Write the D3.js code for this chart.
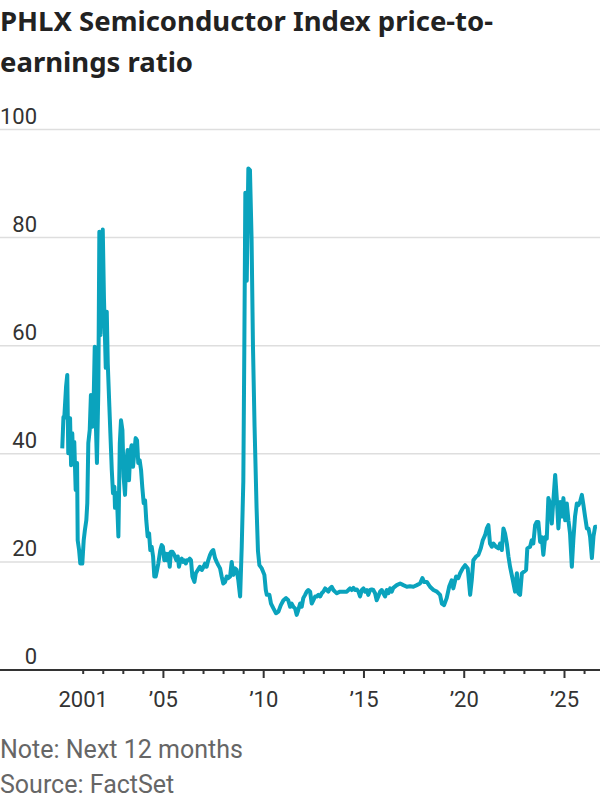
<!DOCTYPE html>
<html>
<head>
<meta charset="utf-8">
<script src="https://cdn.jsdelivr.net/npm/d3@7"></script>
<style>
  html, body { margin: 0; padding: 0; background: #fff; }
  svg { display: block; }
</style>
</head>
<body>
<svg id="chart" width="600" height="800"></svg>
<script>
// ---- Data ----
const titleLines = ["PHLX Semiconductor Index price-to-", "earnings ratio"];
const noteLines = ["Note: Next 12 months", "Source: FactSet"];

const yTicks = [0, 20, 40, 60, 80, 100];
const xTickYears = d3.range(2001, 2027);
const xLabelYears = [2001, 2005, 2010, 2015, 2020, 2025];
const xTickLabels = ["2001", "’05", "’10", "’15", "’20", "’25"];

// decimal years
const years = [
  1999.98, 2000.04, 2000.08, 2000.17, 2000.23, 2000.28, 2000.37, 2000.42, 2000.48, 2000.53,
  2000.58, 2000.65, 2000.72, 2000.75, 2000.82, 2000.88, 2000.98, 2001.05, 2001.11, 2001.18,
  2001.23, 2001.28, 2001.35, 2001.41, 2001.48, 2001.55, 2001.60, 2001.65, 2001.71, 2001.78,
  2001.83, 2001.89, 2002.00, 2002.06, 2002.15, 2002.20, 2002.25, 2002.33, 2002.38, 2002.45,
  2002.51, 2002.58, 2002.61, 2002.70, 2002.78, 2002.85, 2002.91, 2002.98, 2003.04, 2003.11,
  2003.17, 2003.24, 2003.31, 2003.37, 2003.44, 2003.51, 2003.57, 2003.64, 2003.71, 2003.77,
  2003.84, 2003.91, 2003.97, 2004.04, 2004.11, 2004.17, 2004.24, 2004.31, 2004.37, 2004.44,
  2004.51, 2004.57, 2004.64, 2004.71, 2004.77, 2004.87, 2004.94, 2005.00, 2005.07, 2005.14,
  2005.20, 2005.27, 2005.34, 2005.40, 2005.47, 2005.54, 2005.60, 2005.67, 2005.74, 2005.80,
  2005.87, 2005.94, 2006.00, 2006.07, 2006.14, 2006.20, 2006.27, 2006.34, 2006.40, 2006.47,
  2006.57, 2006.64, 2006.74, 2006.84, 2006.94, 2007.03, 2007.10, 2007.18, 2007.26, 2007.35,
  2007.43, 2007.51, 2007.60, 2007.68, 2007.76, 2007.85, 2007.93, 2008.01, 2008.10, 2008.18,
  2008.26, 2008.35, 2008.43, 2008.51, 2008.60, 2008.68, 2008.76, 2008.85, 2008.93, 2009.01,
  2009.06, 2009.11, 2009.18, 2009.26, 2009.34, 2009.42, 2009.49, 2009.57, 2009.67, 2009.74,
  2009.81, 2009.93, 2010.06, 2010.13, 2010.18, 2010.31, 2010.39, 2010.51, 2010.64, 2010.76,
  2010.88, 2011.01, 2011.14, 2011.25, 2011.34, 2011.42, 2011.50, 2011.59, 2011.67, 2011.75,
  2011.84, 2011.92, 2012.00, 2012.09, 2012.17, 2012.25, 2012.34, 2012.42, 2012.50, 2012.59,
  2012.67, 2012.75, 2012.84, 2012.92, 2013.00, 2013.09, 2013.17, 2013.25, 2013.33, 2013.42,
  2013.50, 2013.58, 2013.67, 2013.83, 2014.00, 2014.17, 2014.25, 2014.33, 2014.42, 2014.50,
  2014.58, 2014.67, 2014.75, 2014.83, 2014.92, 2015.00, 2015.08, 2015.17, 2015.24, 2015.33,
  2015.41, 2015.49, 2015.58, 2015.66, 2015.74, 2015.83, 2015.91, 2015.99, 2016.08, 2016.16,
  2016.24, 2016.33, 2016.41, 2016.49, 2016.66, 2016.83, 2016.99, 2017.16, 2017.32, 2017.49,
  2017.66, 2017.82, 2017.94, 2018.02, 2018.16, 2018.32, 2018.49, 2018.66, 2018.82, 2018.91,
  2019.02, 2019.15, 2019.28, 2019.40, 2019.48, 2019.62, 2019.73, 2019.82, 2019.95, 2020.07,
  2020.20, 2020.32, 2020.40, 2020.48, 2020.62, 2020.73, 2020.85, 2020.95, 2021.07, 2021.15,
  2021.23, 2021.31, 2021.40, 2021.48, 2021.61, 2021.73, 2021.81, 2021.90, 2021.98, 2022.06,
  2022.15, 2022.23, 2022.31, 2022.45, 2022.56, 2022.65, 2022.73, 2022.81, 2022.90, 2023.01,
  2023.11, 2023.17, 2023.31, 2023.39, 2023.47, 2023.56, 2023.64, 2023.72, 2023.81, 2023.89,
  2023.97, 2024.06, 2024.14, 2024.22, 2024.31, 2024.39, 2024.47, 2024.56, 2024.64, 2024.72,
  2024.81, 2024.89, 2024.97, 2025.06, 2025.14, 2025.22, 2025.30, 2025.39, 2025.47, 2025.55,
  2025.64, 2025.72, 2025.80, 2025.89, 2025.97, 2026.05, 2026.14, 2026.22, 2026.30, 2026.39,
  2026.47, 2026.55, 2026.64
];

// forward price-to-earnings ratio
const peRatio = [
  41.0, 46.8, 46.6, 52.4, 54.6, 40.1, 46.6, 37.9, 43.8, 38.3,
  42.2, 33.3, 38.3, 24.0, 22.2, 19.7, 19.7, 24.0, 25.9, 27.7,
  30.9, 42.0, 44.4, 50.9, 45.0, 50.5, 59.8, 46.2, 38.3, 51.8,
  81.1, 62.0, 81.5, 68.8, 55.9, 66.3, 56.7, 48.7, 43.8, 37.0,
  32.7, 33.9, 30.0, 32.7, 24.7, 42.0, 46.2, 44.4, 35.8, 32.4,
  38.3, 40.7, 35.1, 40.1, 41.6, 37.6, 40.1, 42.9, 42.5, 38.3,
  38.8, 37.0, 33.9, 30.9, 31.4, 27.7, 24.7, 25.3, 22.2, 22.8,
  21.0, 17.3, 17.3, 18.5, 19.7, 22.2, 23.1, 22.8, 20.3, 21.5,
  20.3, 21.5, 19.1, 21.9, 21.9, 21.5, 21.0, 20.3, 21.0, 19.1,
  20.3, 20.6, 20.0, 20.3, 19.7, 20.3, 20.3, 20.6, 20.3, 17.3,
  16.3, 17.9, 18.5, 19.1, 18.5, 19.1, 19.7, 19.1, 20.3, 21.3,
  21.9, 22.2, 20.7, 20.0, 19.4, 18.8, 17.3, 16.0, 16.3, 17.3,
  17.0, 17.3, 20.0, 17.6, 18.8, 18.5, 16.6, 13.6, 22.8, 35.0,
  60.0, 88.3, 72.0, 92.8, 92.5, 80.0, 60.0, 45.0, 30.0, 22.0,
  19.4, 18.8, 17.6, 14.8, 13.9, 13.9, 12.3, 11.4, 10.5, 10.8,
  12.0, 12.9, 13.3, 12.9, 11.7, 12.3, 11.7, 11.4, 10.2, 11.1,
  12.3, 11.7, 13.3, 13.9, 14.5, 14.8, 14.5, 12.3, 12.9, 13.6,
  13.6, 13.9, 13.6, 14.2, 14.5, 15.1, 14.8, 14.5, 15.1, 15.4,
  14.8, 14.5, 14.2, 14.5, 14.5, 14.5, 14.8, 15.1, 14.8, 15.2,
  14.8, 14.9, 14.5, 13.6, 14.8, 15.1, 14.5, 14.8, 13.9, 14.8,
  14.9, 14.8, 14.2, 12.9, 13.6, 14.5, 14.8, 14.2, 13.6, 14.8,
  14.2, 15.1, 14.5, 15.2, 15.7, 16.0, 15.7, 15.4, 15.5, 15.4,
  15.7, 16.0, 17.0, 16.3, 16.3, 15.4, 14.8, 14.5, 13.9, 12.3,
  12.0, 13.3, 15.5, 16.6, 15.1, 17.3, 17.0, 17.9, 18.8, 19.4,
  18.8, 13.9, 16.6, 20.3, 21.0, 21.3, 22.5, 24.0, 25.0, 26.2,
  26.8, 23.4, 22.8, 23.4, 22.8, 22.5, 23.4, 22.2, 26.2, 25.3,
  23.4, 21.0, 19.1, 16.6, 14.5, 17.9, 14.2, 13.9, 17.9, 18.2,
  18.5, 22.5, 22.8, 24.0, 23.4, 26.8, 27.4, 27.4, 23.7, 24.6,
  21.3, 24.6, 24.3, 31.8, 30.8, 27.1, 31.4, 36.1, 31.8, 26.2,
  31.1, 28.4, 31.8, 27.7, 30.8, 27.7, 25.3, 19.1, 24.3, 28.4,
  30.8, 30.5, 31.1, 32.4, 30.5, 28.4, 26.2, 26.2, 24.7, 20.7,
  24.7, 26.5, 26.5
];

// ---- Drawing ----
const W = 600, H = 800;
const svg = d3.select("#chart");
const FONT = "Roboto, 'Liberation Sans', sans-serif";

const x = d3.scaleLinear().domain([2001, 2025]).range([82.7, 564]);
const y = d3.scaleLinear().domain([0, 100]).range([670, 129.5]);

// title
svg.append("g").selectAll("text").data(titleLines).join("text")
  .attr("x", 0).attr("y", (d, i) => 31 + i * 41)
  .attr("font-family", "'Noto Sans', sans-serif")
  .attr("font-weight", 700).attr("font-size", 27.5)
  .attr("fill", "#222").text(d => d);

// gridlines
svg.append("g").selectAll("line").data(yTicks.filter(v => v > 0)).join("line")
  .attr("x1", 0).attr("x2", W)
  .attr("y1", d => y(d)).attr("y2", d => y(d))
  .attr("stroke", "#dedede").attr("stroke-width", 1.5);

// y labels
svg.append("g").selectAll("text").data(yTicks).join("text")
  .attr("x", 37).attr("y", d => y(d) - 6)
  .attr("text-anchor", "end")
  .attr("font-family", FONT).attr("font-size", 22)
  .attr("fill", "#333").text(d => d);

// line
const line = d3.line()
  .x((d, i) => x(years[i]))
  .y(d => y(d));
svg.append("path").datum(peRatio)
  .attr("d", line)
  .attr("fill", "none")
  .attr("stroke", "#0aa3bd")
  .attr("stroke-width", 4)
  .attr("stroke-linejoin", "round");

// x axis
const xAxis = d3.axisBottom(x)
  .tickValues(xTickYears)
  .tickSize(8)
  .tickSizeOuter(0)
  .tickFormat(d => {
    const k = xLabelYears.indexOf(d);
    return k >= 0 ? xTickLabels[k] : "";
  });
const gx = svg.append("g").attr("transform", `translate(0,${y(0)})`).call(xAxis);
gx.select(".domain").remove();
gx.selectAll(".tick line")
  .attr("y2", d => (d % 5 === 0 ? 8 : 4))
  .attr("stroke", "#333").attr("stroke-width", 2);
gx.selectAll(".tick text")
  .attr("y", 21).attr("dy", "0.71em")
  .attr("font-family", FONT).attr("font-size", 22)
  .attr("fill", "#333");
svg.append("line")
  .attr("x1", 0).attr("x2", W)
  .attr("y1", y(0)).attr("y2", y(0))
  .attr("stroke", "#333").attr("stroke-width", 2);

// notes
svg.append("g").selectAll("text").data(noteLines).join("text")
  .attr("x", 0).attr("y", (d, i) => 758 + i * 35)
  .attr("font-family", FONT).attr("font-size", 25)
  .attr("fill", "#666").text(d => d);
</script>
</body>
</html>
